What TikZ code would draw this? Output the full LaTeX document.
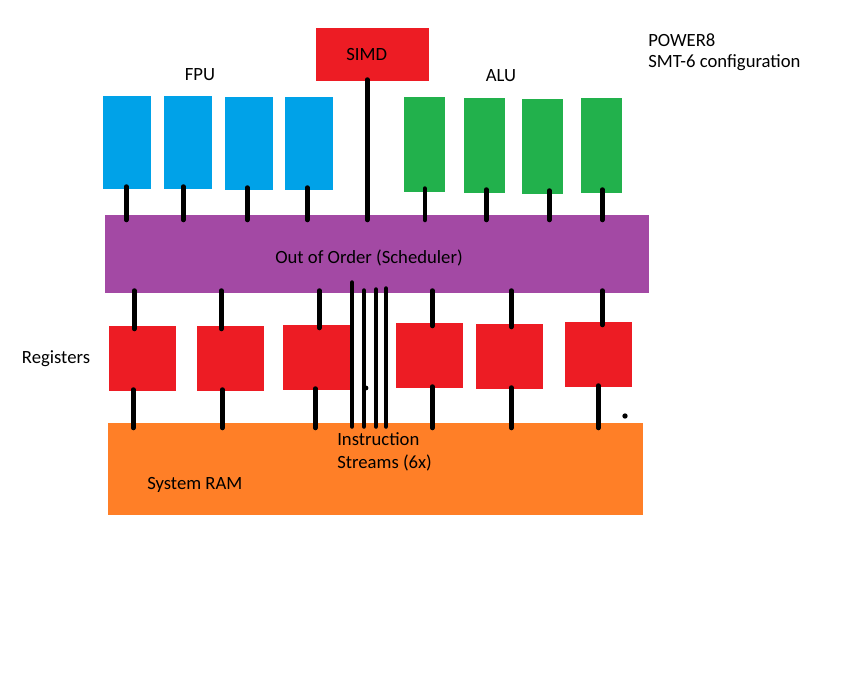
\documentclass[tikz,border=0pt]{standalone}
\usepackage{fontspec}
\setmainfont{Carlito}
\usetikzlibrary{calc}
\definecolor{fpublue}{HTML}{00A2E8}
\definecolor{alugreen}{HTML}{22B14C}
\definecolor{regred}{HTML}{ED1C24}
\definecolor{schedpurple}{HTML}{A349A4}
\definecolor{ramorange}{HTML}{FF7F27}
\tikzset{
  hwunit/.style={
    draw=none,
    inner sep=0pt,
    anchor=north west,
    font=\fontsize{14}{16}\selectfont
  },
  fpu box/.style={hwunit, fill=fpublue, minimum width=36pt, minimum height=69.75pt},
  alu box/.style={hwunit, fill=alugreen, minimum width=30.75pt, minimum height=71.25pt},
  reg box/.style={hwunit, fill=regred, minimum width=50.25pt, minimum height=48.75pt},
  wire/.style={line width=3.4pt, line cap=round, black},
  caption text/.style={font=\fontsize{14}{16.5}\selectfont, align=left, inner sep=0pt}
}

\begin{document}
\begin{tikzpicture}[x=0.75pt, y=-0.75pt]
  \fill[white] (0,0) rectangle (850,678);
  \useasboundingbox (0,0) rectangle (850,678);

  % execution units
  \node[hwunit, fill=regred, minimum width=84.75pt, minimum height=39.75pt,
        label={[caption text, xshift=-4.5pt, yshift=0pt]center:SIMD}] (simd) at (316,28) {};
  \node[fpu box] (fpu1) at (103,96) {};
  \node[fpu box] (fpu2) at (164,96) {};
  \node[fpu box] (fpu3) at (225,97) {};
  \node[fpu box] (fpu4) at (285,97) {};
  \node[alu box] (alu1) at (404,97) {};
  \node[alu box] (alu2) at (464,98) {};
  \node[alu box] (alu3) at (522,99) {};
  \node[alu box] (alu4) at (581,98) {};
  \node[caption text] (fpulbl) at (200,75) {FPU};
  \node[caption text] (alulbl) at (501,76) {ALU};
  \node[caption text, anchor=west, font=\fontsize{14}{15.75}\selectfont] (title) at (648,52) {POWER8\\SMT-6 configuration};

  % scheduler
  \node[hwunit, fill=schedpurple, minimum width=408pt, minimum height=58.5pt] (sched) at (105,215) {};
  \node[caption text] (schedlbl) at (369,258) {Out of Order (Scheduler)};

  % registers
  \node[reg box] (reg1) at (109,326) {};
  \node[reg box] (reg2) at (197,326) {};
  \node[reg box] (reg3) at (283,325) {};
  \node[reg box] (reg4) at (396,323) {};
  \node[reg box] (reg5) at (476,324) {};
  \node[reg box] (reg6) at (565,322) {};
  \node[caption text] (reglbl) at (56,359) {Registers};

  % memory
  \node[hwunit, fill=ramorange, minimum width=401.25pt, minimum height=69pt] (ram) at (108,423) {};
  \node[caption text, anchor=west, font=\fontsize{14}{17.25}\selectfont] (streams) at (337,452) {Instruction\\Streams (6x)};
  \node[caption text, anchor=west] (ramlbl) at (147,485) {System RAM};

  % wires
  \foreach \i/\dx in {1/-1, 2/-5, 3/-2, 4/-2}
    \draw[wire] ($(fpu\i.south)+(\dx,-3)$) -- ($(fpu\i.south |- sched.north)+(\dx,5)$);
  \foreach \i/\dx in {1/0, 2/1.5, 3/6.5, 4/0.5}
    \draw[wire] ($(alu\i.south)+(\dx,-4)$) -- ($(alu\i.south |- sched.north)+(\dx,5)$);
  \draw[wire] ($(simd.south)+(-5.5,-2)$) -- ($(simd.south |- sched.north)+(-5.5,5)$);
  \foreach \i/\a/\b in {1/-8.5/-9.5, 2/-9.5/-8.5, 3/2.5/-1.5, 4/2.5/2.5, 5/1.5/1.5, 6/3.5/-0.5} {
    \draw[wire] ($(reg\i.north |- sched.south)+(\a,-3)$) -- ($(reg\i.north)+(\a,3)$);
    \draw[wire] ($(reg\i.south)+(\b,-2)$) -- ($(reg\i.south |- ram.north)+(\b,5)$);
  }
  \foreach \x/\t in {352/-11, 364/-3, 376/-4, 386/-5} {
    \coordinate (st\x) at (\x,0);
    \draw[wire] ($(st\x |- sched.south)+(0,\t)$) -- ($(st\x |- ram.north)+(0,3.5)$);
  }
  \fill (366,388) circle (1.8pt);
  \fill (625,416) circle (2pt);
\end{tikzpicture}
\end{document}
